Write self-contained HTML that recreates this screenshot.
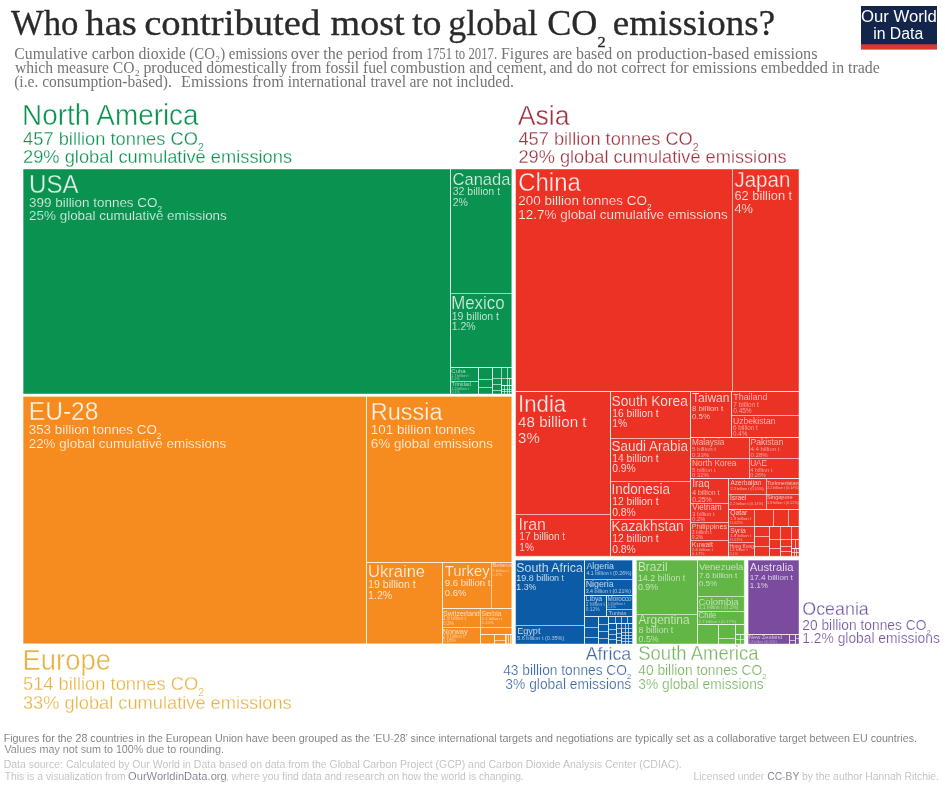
<!DOCTYPE html>
<html lang="en">
<head>
<meta charset="utf-8">
<title>Who has contributed most to global CO2 emissions?</title>
<style>
html,body{margin:0;padding:0;background:#fff;}
body{width:945px;height:789px;overflow:hidden;}
svg{display:block;}
.s{font-family:"Liberation Sans",Arial,Helvetica,sans-serif;}
.f{font-family:"Liberation Serif","Times New Roman",serif;}
text{white-space:pre;}
</style>
</head>
<body>
<svg width="945" height="789" viewBox="0 0 945 789">
<rect x="0" y="0" width="945" height="789" fill="#fff"/>
<text class="f" x="10.9" y="35.4" font-size="35.6" fill="#2a2a2a" stroke="#2a2a2a" stroke-width="0.3" textLength="67.55" lengthAdjust="spacingAndGlyphs">Who</text>
<text class="f" x="85.31" y="35.4" font-size="35.6" fill="#2a2a2a" stroke="#2a2a2a" stroke-width="0.3" textLength="51.67" lengthAdjust="spacingAndGlyphs">has</text>
<text class="f" x="144.15" y="35.4" font-size="35.6" fill="#2a2a2a" stroke="#2a2a2a" stroke-width="0.3" textLength="176.2" lengthAdjust="spacingAndGlyphs">contributed</text>
<text class="f" x="330.64" y="35.4" font-size="35.6" fill="#2a2a2a" stroke="#2a2a2a" stroke-width="0.3" textLength="74.03" lengthAdjust="spacingAndGlyphs">most</text>
<text class="f" x="411.92" y="35.4" font-size="35.6" fill="#2a2a2a" stroke="#2a2a2a" stroke-width="0.3" textLength="29.51" lengthAdjust="spacingAndGlyphs">to</text>
<text class="f" x="448.39" y="35.4" font-size="35.6" fill="#2a2a2a" stroke="#2a2a2a" stroke-width="0.3" textLength="89.3" lengthAdjust="spacingAndGlyphs">global</text>
<text class="f" x="547.16" y="35.4" font-size="35.6" fill="#2a2a2a" stroke="#2a2a2a" stroke-width="0.3" textLength="50.14" lengthAdjust="spacingAndGlyphs">CO</text>
<text class="f" x="612.82" y="35.4" font-size="35.6" fill="#2a2a2a" stroke="#2a2a2a" stroke-width="0.3" textLength="162.3" lengthAdjust="spacingAndGlyphs">emissions?</text>
<text class="f" x="597.6" y="46.5" font-size="14.5" fill="#2a2a2a" stroke="#2a2a2a" stroke-width="0.3" textLength="8.2" lengthAdjust="spacingAndGlyphs">2</text>
<text class="f" x="14.27" y="58.8" font-size="16" fill="#747474" textLength="171.4" lengthAdjust="spacingAndGlyphs">Cumulative carbon dioxide</text>
<text class="f" x="189.33" y="58.8" font-size="16" fill="#747474" textLength="98.27" lengthAdjust="spacingAndGlyphs">(CO₂) emissions</text>
<text class="f" x="290.76" y="58.8" font-size="16" fill="#747474" textLength="132.34" lengthAdjust="spacingAndGlyphs">over the period from</text>
<text class="f" x="426.62" y="58.8" font-size="16" fill="#747474" textLength="70.48" lengthAdjust="spacingAndGlyphs">1751 to 2017.</text>
<text class="f" x="500.92" y="58.8" font-size="16" fill="#747474" textLength="131.28" lengthAdjust="spacingAndGlyphs">Figures are based on</text>
<text class="f" x="636.86" y="58.8" font-size="16" fill="#747474" textLength="180.66" lengthAdjust="spacingAndGlyphs">production-based emissions</text>
<text class="f" x="14.9" y="72.5" font-size="16" fill="#747474" textLength="125.03" lengthAdjust="spacingAndGlyphs">which measure CO₂</text>
<text class="f" x="143.46" y="72.5" font-size="16" fill="#747474" textLength="143.72" lengthAdjust="spacingAndGlyphs">produced domestically</text>
<text class="f" x="290.93" y="72.5" font-size="16" fill="#747474" textLength="96.41" lengthAdjust="spacingAndGlyphs">from fossil fuel</text>
<text class="f" x="390.26" y="72.5" font-size="16" fill="#747474" textLength="156.52" lengthAdjust="spacingAndGlyphs">combustion and cement,</text>
<text class="f" x="549.44" y="72.5" font-size="16" fill="#747474" textLength="139.29" lengthAdjust="spacingAndGlyphs">and do not correct for</text>
<text class="f" x="692.25" y="72.5" font-size="16" fill="#747474" textLength="135.8" lengthAdjust="spacingAndGlyphs">emissions embedded</text>
<text class="f" x="831.78" y="72.5" font-size="16" fill="#747474" textLength="48.01" lengthAdjust="spacingAndGlyphs">in trade</text>
<text class="f" x="14.2" y="87" font-size="16" fill="#747474" textLength="157.69" lengthAdjust="spacingAndGlyphs">(i.e. consumption-based).</text>
<text class="f" x="180.91" y="87" font-size="16" fill="#747474" textLength="102.96" lengthAdjust="spacingAndGlyphs">Emissions from</text>
<text class="f" x="287.69" y="87" font-size="16" fill="#747474" textLength="118.32" lengthAdjust="spacingAndGlyphs">international travel</text>
<text class="f" x="409.45" y="87" font-size="16" fill="#747474" textLength="104.49" lengthAdjust="spacingAndGlyphs">are not included.</text>
<rect x="861" y="6" width="76" height="43.3" fill="#13254a"/>
<rect x="861" y="44.3" width="76" height="5" fill="#d63a2f"/>
<text class="s" x="860.95" y="22.1" font-size="16" fill="#fff" textLength="75.89" lengthAdjust="spacingAndGlyphs">Our World</text>
<text class="s" x="873.17" y="38.5" font-size="16" fill="#fff" textLength="50.08" lengthAdjust="spacingAndGlyphs">in Data</text>
<text class="s" x="22.07" y="125" font-size="29.52" fill="#0a9250" stroke="#fff" stroke-width="0.44" textLength="176.45" lengthAdjust="spacingAndGlyphs">North America</text>
<text class="s" x="23.07" y="144.5" font-size="18.92" fill="#0a9250" stroke="#fff" stroke-width="0.28" textLength="174.82" lengthAdjust="spacingAndGlyphs">457 billion tonnes CO</text>
<text class="s" x="197.89" y="151" font-size="10.5" fill="#0a9250" stroke="#fff" stroke-width="0.16" textLength="5.84" lengthAdjust="spacingAndGlyphs">2</text>
<text class="s" x="23.07" y="163.4" font-size="18.9" fill="#0a9250" stroke="#fff" stroke-width="0.28" textLength="268.95" lengthAdjust="spacingAndGlyphs">29% global cumulative emissions</text>
<text class="s" x="517.8" y="125.4" font-size="28.23" fill="#a03340" stroke="#fff" stroke-width="0.42" textLength="51.81" lengthAdjust="spacingAndGlyphs">Asia</text>
<text class="s" x="518.4" y="144.5" font-size="18.88" fill="#a03340" stroke="#fff" stroke-width="0.28" textLength="174.42" lengthAdjust="spacingAndGlyphs">457 billion tonnes CO</text>
<text class="s" x="692.82" y="151" font-size="10.5" fill="#a03340" stroke="#fff" stroke-width="0.16" textLength="5.84" lengthAdjust="spacingAndGlyphs">2</text>
<text class="s" x="518.4" y="163.4" font-size="18.84" fill="#a03340" stroke="#fff" stroke-width="0.28" textLength="268.14" lengthAdjust="spacingAndGlyphs">29% global cumulative emissions</text>
<text class="s" x="22.56" y="670.3" font-size="29.06" fill="#e8b344" stroke="#fff" stroke-width="0.44" textLength="88.42" lengthAdjust="spacingAndGlyphs">Europe</text>
<text class="s" x="22.96" y="689.6" font-size="18.96" fill="#e8b344" stroke="#fff" stroke-width="0.28" textLength="175.19" lengthAdjust="spacingAndGlyphs">514 billion tonnes CO</text>
<text class="s" x="198.15" y="696.1" font-size="10.5" fill="#e8b344" stroke="#fff" stroke-width="0.16" textLength="5.84" lengthAdjust="spacingAndGlyphs">2</text>
<text class="s" x="22.96" y="709" font-size="18.88" fill="#e8b344" stroke="#fff" stroke-width="0.28" textLength="268.77" lengthAdjust="spacingAndGlyphs">33% global cumulative emissions</text>
<text class="s" x="585.7" y="660.3" font-size="18.88" fill="#4068a4" stroke="#fff" stroke-width="0.28" textLength="45.52" lengthAdjust="spacingAndGlyphs">Africa</text>
<text class="s" x="503.19" y="674.6" font-size="14.23" fill="#4068a4" stroke="#fff" stroke-width="0.21" textLength="123.8" lengthAdjust="spacingAndGlyphs">43 billion tonnes CO</text>
<text class="s" x="627" y="679.3" font-size="7.6" fill="#4068a4" stroke="#fff" stroke-width="0.11" textLength="4.23" lengthAdjust="spacingAndGlyphs">2</text>
<text class="s" x="505.37" y="688.9" font-size="14.29" fill="#4068a4" stroke="#fff" stroke-width="0.21" textLength="125.85" lengthAdjust="spacingAndGlyphs">3% global emissions</text>
<text class="s" x="638.27" y="660.2" font-size="19.59" fill="#7ab560" stroke="#fff" stroke-width="0.29" textLength="120.21" lengthAdjust="spacingAndGlyphs">South America</text>
<text class="s" x="638.27" y="674.5" font-size="14.24" fill="#7ab560" stroke="#fff" stroke-width="0.21" textLength="123.9" lengthAdjust="spacingAndGlyphs">40 billion tonnes CO</text>
<text class="s" x="762.17" y="679.4" font-size="7.6" fill="#7ab560" stroke="#fff" stroke-width="0.11" textLength="4.23" lengthAdjust="spacingAndGlyphs">2</text>
<text class="s" x="638.27" y="688.9" font-size="14.24" fill="#7ab560" stroke="#fff" stroke-width="0.21" textLength="125.44" lengthAdjust="spacingAndGlyphs">3% global emissions</text>
<text class="s" x="802.3" y="615.4" font-size="18.92" fill="#7556a3" stroke="#fff" stroke-width="0.28" textLength="66.5" lengthAdjust="spacingAndGlyphs">Oceania</text>
<text class="s" x="802.3" y="629.8" font-size="14.26" fill="#7556a3" stroke="#fff" stroke-width="0.21" textLength="124.12" lengthAdjust="spacingAndGlyphs">20 billion tonnes CO</text>
<text class="s" x="926.41" y="634.7" font-size="7.6" fill="#7556a3" stroke="#fff" stroke-width="0.11" textLength="4.23" lengthAdjust="spacingAndGlyphs">2</text>
<text class="s" x="802.3" y="643.2" font-size="14.3" fill="#7556a3" stroke="#fff" stroke-width="0.21" textLength="137.52" lengthAdjust="spacingAndGlyphs">1.2% global emissions</text>
<rect x="23.1" y="169" width="488.7" height="225" fill="#0a9250" stroke="#fff" stroke-opacity="0.45" stroke-width="1"/>
<rect x="515.55" y="169" width="283.45" height="387.3" fill="#ec3224" stroke="#fff" stroke-opacity="0.45" stroke-width="1"/>
<rect x="23.1" y="396.4" width="488.7" height="247.4" fill="#f68b1f" stroke="#fff" stroke-opacity="0.45" stroke-width="1"/>
<rect x="515.55" y="560.1" width="116.95" height="83.9" fill="#0b5ba6" stroke="#fff" stroke-opacity="0.45" stroke-width="1"/>
<rect x="636.4" y="560.1" width="107.9" height="83.9" fill="#62b646" stroke="#fff" stroke-opacity="0.45" stroke-width="1"/>
<rect x="748.1" y="560.1" width="50.9" height="83.9" fill="#7a4b9e" stroke="#fff" stroke-opacity="0.45" stroke-width="1"/>
<path d="M450.5 169L450.5 293.5M450.5 169L450.5 394M450.5 293.5L450.5 367.5M450.5 293.5L512 293.5M450.5 367.5L450.5 381.5M450.5 367.5L478.5 367.5M450.5 367.5L512 367.5M450.5 381.5L450.5 394M450.5 381.5L478.5 381.5M478.5 367.5L478.5 379.5M478.5 367.5L478.5 381.5M478.5 367.5L492.5 367.5M478.5 379.5L478.5 387.5M478.5 379.5L492.5 379.5M478.5 381.5L478.5 394M478.5 387.5L478.5 394M478.5 387.5L492.5 387.5M492.5 367.5L492.5 378.5M492.5 367.5L492.5 379.5M492.5 367.5L501.5 367.5M492.5 378.5L492.5 384.5M492.5 378.5L501.5 378.5M492.5 379.5L492.5 387.5M492.5 384.5L492.5 390.5M492.5 384.5L501.5 384.5M492.5 387.5L492.5 394M492.5 390.5L492.5 394M492.5 390.5L501.5 390.5M501.5 367.5L501.5 378.5M501.5 367.5L507.5 367.5M501.5 378.5L501.5 384.5M501.5 378.5L501.5 385.5M501.5 378.5L507.5 378.5M501.5 384.5L501.5 390.5M501.5 385.5L501.5 389.5M501.5 385.5L501.5 394M501.5 385.5L504.5 385.5M501.5 385.5L507.5 385.5M501.5 385.5L512 385.5M501.5 389.5L501.5 391.5M501.5 389.5L512 389.5M501.5 390.5L501.5 394M501.5 391.5L512 391.5M504.5 385.5L504.5 394M504.5 385.5L507.5 385.5M507.5 367.5L507.5 378.5M507.5 367.5L512 367.5M507.5 378.5L507.5 385.5M507.5 378.5L509.5 378.5M507.5 378.5L512 378.5M507.5 385.5L507.5 394M507.5 385.5L509.5 385.5M507.5 385.5L512 385.5M509.5 378.5L509.5 385.5M509.5 378.5L512 378.5M509.5 385.5L509.5 394M509.5 385.5L512 385.5" stroke="#fff" stroke-opacity="0.6" stroke-width="1" fill="none"/>
<path d="M515.7 391.5L610.5 391.5M515.7 391.5L732.5 391.5M515.7 514.5L610.5 514.5M610.5 391.5L610.5 438.5M610.5 391.5L610.5 514.5M610.5 391.5L690.5 391.5M610.5 438.5L610.5 481.5M610.5 438.5L690.5 438.5M610.5 481.5L610.5 519.5M610.5 481.5L690.5 481.5M610.5 514.5L610.5 556.3M610.5 519.5L610.5 556.3M610.5 519.5L690.5 519.5M690.5 391.5L690.5 437.5M690.5 391.5L690.5 438.5M690.5 391.5L731.5 391.5M690.5 437.5L690.5 458.5M690.5 437.5L731.5 437.5M690.5 437.5L749.5 437.5M690.5 438.5L690.5 481.5M690.5 458.5L690.5 478.5M690.5 458.5L749.5 458.5M690.5 478.5L690.5 503.5M690.5 478.5L728.5 478.5M690.5 478.5L749.5 478.5M690.5 481.5L690.5 519.5M690.5 503.5L690.5 522.5M690.5 503.5L728.5 503.5M690.5 519.5L690.5 556.3M690.5 522.5L690.5 540.5M690.5 522.5L728.5 522.5M690.5 540.5L690.5 556.3M690.5 540.5L728.5 540.5M728.5 478.5L728.5 494.5M728.5 478.5L728.5 503.5M728.5 478.5L766.5 478.5M728.5 494.5L728.5 509.5M728.5 494.5L766.5 494.5M728.5 503.5L728.5 522.5M728.5 509.5L728.5 526.5M728.5 509.5L754.5 509.5M728.5 509.5L766.5 509.5M728.5 522.5L728.5 540.5M728.5 526.5L728.5 542.5M728.5 526.5L754.5 526.5M728.5 540.5L728.5 556.3M728.5 542.5L728.5 556.3M728.5 542.5L754.5 542.5M731.5 391.5L731.5 415.5M731.5 391.5L731.5 437.5M731.5 391.5L799 391.5M731.5 415.5L731.5 437.5M731.5 415.5L799 415.5M731.5 437.5L799 437.5M732.5 169L732.5 391.5M732.5 391.5L799 391.5M749.5 437.5L749.5 458.5M749.5 437.5L799 437.5M749.5 458.5L749.5 478.5M749.5 458.5L799 458.5M749.5 478.5L799 478.5M754.5 509.5L754.5 526.5M754.5 509.5L773.5 509.5M754.5 526.5L754.5 536.5M754.5 526.5L754.5 542.5M754.5 526.5L769.5 526.5M754.5 526.5L773.5 526.5M754.5 536.5L754.5 546.5M754.5 536.5L769.5 536.5M754.5 542.5L754.5 556.3M754.5 546.5L754.5 556.3M754.5 546.5L769.5 546.5M766.5 478.5L766.5 494.5M766.5 478.5L799 478.5M766.5 494.5L766.5 509.5M766.5 494.5L799 494.5M766.5 509.5L799 509.5M769.5 526.5L769.5 536.5M769.5 526.5L769.5 539.5M769.5 526.5L780.5 526.5M769.5 536.5L769.5 546.5M769.5 539.5L769.5 548.5M769.5 539.5L780.5 539.5M769.5 546.5L769.5 556.3M769.5 548.5L769.5 556.3M769.5 548.5L780.5 548.5M773.5 509.5L773.5 526.5M773.5 509.5L788.5 509.5M773.5 526.5L788.5 526.5M780.5 526.5L780.5 539.5M780.5 526.5L791.5 526.5M780.5 539.5L780.5 546.5M780.5 539.5L780.5 548.5M780.5 539.5L791.5 539.5M780.5 546.5L780.5 551.5M780.5 546.5L791.5 546.5M780.5 548.5L780.5 556.3M780.5 551.5L780.5 556.3M780.5 551.5L791.5 551.5M788.5 509.5L788.5 526.5M788.5 509.5L799 509.5M788.5 526.5L799 526.5M791.5 526.5L791.5 539.5M791.5 526.5L799 526.5M791.5 539.5L791.5 546.5M791.5 539.5L791.5 548.5M791.5 539.5L795.5 539.5M791.5 539.5L799 539.5M791.5 546.5L791.5 551.5M791.5 548.5L791.5 552.5M791.5 548.5L791.5 556.3M791.5 548.5L794.5 548.5M791.5 548.5L795.5 548.5M791.5 548.5L799 548.5M791.5 551.5L791.5 556.3M791.5 552.5L791.5 556.3M791.5 552.5L799 552.5M794.5 548.5L794.5 556.3M794.5 548.5L796.5 548.5M795.5 539.5L795.5 548.5M795.5 539.5L799 539.5M795.5 548.5L799 548.5M796.5 548.5L796.5 556.3M796.5 548.5L799 548.5" stroke="#fff" stroke-opacity="0.62" stroke-width="1" fill="none"/>
<path d="M366.5 396L366.5 562.5M366.5 396L366.5 643.8M366.5 562.5L366.5 643.8M366.5 562.5L442.5 562.5M366.5 562.5L512 562.5M442.5 562.5L442.5 608.5M442.5 562.5L442.5 643.8M442.5 562.5L491.5 562.5M442.5 608.5L442.5 627.5M442.5 608.5L480.5 608.5M442.5 608.5L491.5 608.5M442.5 627.5L442.5 643.8M442.5 627.5L480.5 627.5M480.5 608.5L480.5 627.5M480.5 608.5L512 608.5M480.5 627.5L480.5 634.5M480.5 627.5L480.5 643.8M480.5 627.5L512 627.5M480.5 634.5L480.5 643.8M480.5 634.5L494.5 634.5M480.5 634.5L512 634.5M491.5 562.5L491.5 608.5M491.5 562.5L512 562.5M491.5 608.5L512 608.5M494.5 634.5L494.5 640.5M494.5 634.5L494.5 643.8M494.5 634.5L505.5 634.5M494.5 640.5L494.5 643.8M494.5 640.5L505.5 640.5M505.5 634.5L505.5 640.5M505.5 634.5L505.5 643.8M505.5 634.5L506.5 634.5M505.5 634.5L508.5 634.5M505.5 640.5L505.5 643.8M506.5 634.5L506.5 643.8M506.5 634.5L508.5 634.5M508.5 634.5L508.5 643.8M508.5 634.5L510.5 634.5M508.5 634.5L512 634.5M510.5 634.5L510.5 643.8M510.5 634.5L512 634.5" stroke="#fff" stroke-opacity="0.6" stroke-width="1" fill="none"/>
<path d="M515.7 625.5L584.5 625.5M584.5 560.3L584.5 579.5M584.5 560.3L584.5 625.5M584.5 579.5L584.5 595.5M584.5 579.5L632.5 579.5M584.5 595.5L584.5 616.5M584.5 595.5L606.5 595.5M584.5 595.5L632.5 595.5M584.5 616.5L584.5 627.5M584.5 616.5L598.5 616.5M584.5 616.5L606.5 616.5M584.5 625.5L584.5 644M584.5 627.5L584.5 637.5M584.5 627.5L598.5 627.5M584.5 637.5L584.5 644M584.5 637.5L598.5 637.5M598.5 616.5L598.5 624.5M598.5 616.5L598.5 627.5M598.5 616.5L608.5 616.5M598.5 624.5L598.5 631.5M598.5 624.5L608.5 624.5M598.5 627.5L598.5 637.5M598.5 631.5L598.5 638.5M598.5 631.5L608.5 631.5M598.5 637.5L598.5 644M598.5 638.5L598.5 644M598.5 638.5L608.5 638.5M606.5 595.5L606.5 609.5M606.5 595.5L606.5 616.5M606.5 595.5L632.5 595.5M606.5 609.5L606.5 616.5M606.5 609.5L632.5 609.5M606.5 616.5L632.5 616.5M608.5 616.5L608.5 623.5M608.5 616.5L608.5 624.5M608.5 616.5L615.5 616.5M608.5 623.5L608.5 629.5M608.5 623.5L615.5 623.5M608.5 623.5L616.5 623.5M608.5 624.5L608.5 631.5M608.5 629.5L608.5 634.5M608.5 629.5L616.5 629.5M608.5 631.5L608.5 638.5M608.5 634.5L608.5 639.5M608.5 634.5L616.5 634.5M608.5 638.5L608.5 644M608.5 639.5L608.5 644M608.5 639.5L616.5 639.5M615.5 616.5L615.5 623.5M615.5 616.5L621.5 616.5M615.5 623.5L621.5 623.5M616.5 623.5L616.5 628.5M616.5 623.5L616.5 629.5M616.5 623.5L621.5 623.5M616.5 628.5L616.5 633.5M616.5 628.5L621.5 628.5M616.5 629.5L616.5 634.5M616.5 633.5L616.5 637.5M616.5 633.5L621.5 633.5M616.5 634.5L616.5 639.5M616.5 637.5L616.5 640.5M616.5 637.5L621.5 637.5M616.5 639.5L616.5 644M616.5 640.5L616.5 644M616.5 640.5L621.5 640.5M621.5 616.5L621.5 623.5M621.5 616.5L627.5 616.5M621.5 623.5L621.5 628.5M621.5 623.5L625.5 623.5M621.5 623.5L627.5 623.5M621.5 628.5L621.5 632.5M621.5 628.5L621.5 633.5M621.5 628.5L625.5 628.5M621.5 632.5L621.5 635.5M621.5 632.5L625.5 632.5M621.5 633.5L621.5 637.5M621.5 635.5L621.5 638.5M621.5 635.5L625.5 635.5M621.5 637.5L621.5 640.5M621.5 638.5L621.5 641.5M621.5 638.5L625.5 638.5M621.5 640.5L621.5 644M621.5 641.5L621.5 644M621.5 641.5L625.5 641.5M625.5 623.5L625.5 628.5M625.5 623.5L628.5 623.5M625.5 628.5L625.5 632.5M625.5 628.5L628.5 628.5M625.5 632.5L625.5 635.5M625.5 632.5L628.5 632.5M625.5 635.5L625.5 638.5M625.5 635.5L628.5 635.5M625.5 638.5L625.5 641.5M625.5 638.5L628.5 638.5M625.5 641.5L625.5 644M625.5 641.5L628.5 641.5M627.5 616.5L627.5 623.5M627.5 616.5L632.5 616.5M627.5 623.5L632.5 623.5M628.5 623.5L628.5 628.5M628.5 623.5L632.5 623.5M628.5 628.5L628.5 632.5M628.5 628.5L632.5 628.5M628.5 632.5L628.5 635.5M628.5 632.5L632.5 632.5M628.5 635.5L628.5 638.5M628.5 635.5L632.5 635.5M628.5 638.5L628.5 641.5M628.5 638.5L632.5 638.5M628.5 641.5L628.5 644M628.5 641.5L632.5 641.5" stroke="#fff" stroke-opacity="0.62" stroke-width="1" fill="none"/>
<path d="M636.4 614.5L697.5 614.5M697.5 560.3L697.5 596.5M697.5 560.3L697.5 614.5M697.5 596.5L697.5 611.5M697.5 596.5L744.3 596.5M697.5 611.5L697.5 624.5M697.5 611.5L744.3 611.5M697.5 614.5L697.5 644M697.5 624.5L697.5 644M697.5 624.5L718.5 624.5M697.5 624.5L744.3 624.5M718.5 624.5L718.5 638.5M718.5 624.5L718.5 644M718.5 624.5L735.5 624.5M718.5 638.5L718.5 644M718.5 638.5L735.5 638.5M735.5 624.5L735.5 634.5M735.5 624.5L735.5 638.5M735.5 624.5L744.3 624.5M735.5 634.5L735.5 639.5M735.5 634.5L740.5 634.5M735.5 634.5L744.3 634.5M735.5 638.5L735.5 644M735.5 639.5L735.5 644M735.5 639.5L740.5 639.5M740.5 634.5L740.5 639.5M740.5 634.5L744.3 634.5M740.5 639.5L740.5 644M740.5 639.5L744.3 639.5" stroke="#fff" stroke-opacity="0.6" stroke-width="1" fill="none"/>
<path d="M748.1 634.5L789.5 634.5M748.1 634.5L799 634.5M789.5 634.5L789.5 640.5M789.5 634.5L789.5 644M789.5 634.5L795.5 634.5M789.5 640.5L789.5 644M789.5 640.5L795.5 640.5M795.5 634.5L795.5 638.5M795.5 634.5L795.5 640.5M795.5 634.5L799 634.5M795.5 638.5L795.5 644M795.5 638.5L799 638.5M795.5 640.5L795.5 644" stroke="#fff" stroke-opacity="0.6" stroke-width="1" fill="none"/>
<text class="s" x="29.1" y="193.3" font-size="24.96" fill="#fff" fill-opacity="0.86" stroke="#0a9250" stroke-width="0.3" textLength="49.35" lengthAdjust="spacingAndGlyphs">USA</text>
<text class="s" x="29.1" y="206.8" font-size="13.42" fill="#fff" fill-opacity="0.86" stroke="#0a9250" stroke-width="0.16" textLength="128.32" lengthAdjust="spacingAndGlyphs">399 billion tonnes CO</text>
<text class="s" x="29.1" y="220.4" font-size="13.42" fill="#fff" fill-opacity="0.86" stroke="#0a9250" stroke-width="0.16" textLength="197.67" lengthAdjust="spacingAndGlyphs">25% global cumulative emissions</text>
<text class="s" x="157.42" y="212.17" font-size="8.32" fill="#fff" fill-opacity="0.86" stroke="#0a9250" stroke-width="0.1" textLength="4.63" lengthAdjust="spacingAndGlyphs">2</text>
<text class="s" x="452.57" y="184.6" font-size="17.18" fill="#fff" fill-opacity="0.84" stroke="#0a9250" stroke-width="0.21" textLength="57.88" lengthAdjust="spacingAndGlyphs">Canada</text>
<text class="s" x="452.77" y="195.1" font-size="10.5" fill="#fff" fill-opacity="0.84" stroke="#0a9250" stroke-width="0.13" textLength="47.28" lengthAdjust="spacingAndGlyphs">32 billion t</text>
<text class="s" x="452.77" y="205.8" font-size="10.5" fill="#fff" fill-opacity="0.84" stroke="#0a9250" stroke-width="0.13" textLength="15.18" lengthAdjust="spacingAndGlyphs">2%</text>
<text class="s" x="451.15" y="309.2" font-size="17.52" fill="#fff" fill-opacity="0.84" stroke="#0a9250" stroke-width="0.21" textLength="53.37" lengthAdjust="spacingAndGlyphs">Mexico</text>
<text class="s" x="451.75" y="319.9" font-size="10.5" fill="#fff" fill-opacity="0.84" stroke="#0a9250" stroke-width="0.13" textLength="47.28" lengthAdjust="spacingAndGlyphs">19 billion t</text>
<text class="s" x="451.75" y="330.4" font-size="10.5" fill="#fff" fill-opacity="0.84" stroke="#0a9250" stroke-width="0.13" textLength="23.93" lengthAdjust="spacingAndGlyphs">1.2%</text>
<text class="s" x="451.3" y="372.7" font-size="6.24" fill="#fff" fill-opacity="0.75" stroke="#0a9250" stroke-width="0.07" textLength="14.34" lengthAdjust="spacingAndGlyphs">Cuba</text>
<text class="s" x="451.3" y="376.5" font-size="3.6" fill="#fff" fill-opacity="0.6" stroke="#0a9250" stroke-width="0.04" textLength="17.21" lengthAdjust="spacingAndGlyphs">1.7 billion t</text>
<text class="s" x="451.3" y="380.2" font-size="3.6" fill="#fff" fill-opacity="0.6" stroke="#0a9250" stroke-width="0.04" textLength="8.21" lengthAdjust="spacingAndGlyphs">0.1%</text>
<text class="s" x="451.49" y="386.2" font-size="5.72" fill="#fff" fill-opacity="0.75" stroke="#0a9250" stroke-width="0.07" textLength="19.67" lengthAdjust="spacingAndGlyphs">Trinidad</text>
<text class="s" x="451.49" y="389.8" font-size="3.6" fill="#fff" fill-opacity="0.6" stroke="#0a9250" stroke-width="0.04" textLength="17.21" lengthAdjust="spacingAndGlyphs">1.3 billion t</text>
<text class="s" x="451.49" y="393.3" font-size="3.6" fill="#fff" fill-opacity="0.6" stroke="#0a9250" stroke-width="0.04" textLength="8.21" lengthAdjust="spacingAndGlyphs">0.1%</text>
<text class="s" x="518.3" y="191.1" font-size="24.86" fill="#fff" fill-opacity="0.9" stroke="#ec3224" stroke-width="0.3" textLength="62.46" lengthAdjust="spacingAndGlyphs">China</text>
<text class="s" x="518.3" y="205" font-size="13.45" fill="#fff" fill-opacity="0.9" stroke="#ec3224" stroke-width="0.16" textLength="128.61" lengthAdjust="spacingAndGlyphs">200 billion tonnes CO</text>
<text class="s" x="518.3" y="218.6" font-size="13.45" fill="#fff" fill-opacity="0.9" stroke="#ec3224" stroke-width="0.16" textLength="209.33" lengthAdjust="spacingAndGlyphs">12.7% global cumulative emissions</text>
<text class="s" x="646.91" y="210.38" font-size="8.34" fill="#fff" fill-opacity="0.9" stroke="#ec3224" stroke-width="0.1" textLength="4.64" lengthAdjust="spacingAndGlyphs">2</text>
<text class="s" x="734.49" y="187.3" font-size="21.31" fill="#fff" fill-opacity="0.9" stroke="#ec3224" stroke-width="0.26" textLength="55.83" lengthAdjust="spacingAndGlyphs">Japan</text>
<text class="s" x="734.49" y="200.1" font-size="12.8" fill="#fff" fill-opacity="0.9" stroke="#ec3224" stroke-width="0.15" textLength="57.64" lengthAdjust="spacingAndGlyphs">62 billion t</text>
<text class="s" x="734.49" y="213.2" font-size="12.8" fill="#fff" fill-opacity="0.9" stroke="#ec3224" stroke-width="0.15" textLength="18.5" lengthAdjust="spacingAndGlyphs">4%</text>
<text class="s" x="518.1" y="411.7" font-size="23.06" fill="#fff" fill-opacity="0.9" stroke="#ec3224" stroke-width="0.28" textLength="48.07" lengthAdjust="spacingAndGlyphs">India</text>
<text class="s" x="518.1" y="426.9" font-size="15.2" fill="#fff" fill-opacity="0.9" stroke="#ec3224" stroke-width="0.18" textLength="68.43" lengthAdjust="spacingAndGlyphs">48 billion t</text>
<text class="s" x="518.1" y="442.7" font-size="15" fill="#fff" fill-opacity="0.9" stroke="#ec3224" stroke-width="0.18" textLength="21.68" lengthAdjust="spacingAndGlyphs">3%</text>
<text class="s" x="518.57" y="529.6" font-size="16.55" fill="#fff" fill-opacity="0.9" stroke="#ec3224" stroke-width="0.2" textLength="27.42" lengthAdjust="spacingAndGlyphs">Iran</text>
<text class="s" x="519.37" y="540.3" font-size="10.18" fill="#fff" fill-opacity="0.9" stroke="#ec3224" stroke-width="0.12" textLength="45.85" lengthAdjust="spacingAndGlyphs">17 billion t</text>
<text class="s" x="519.37" y="550.9" font-size="10.2" fill="#fff" fill-opacity="0.9" stroke="#ec3224" stroke-width="0.12" textLength="14.74" lengthAdjust="spacingAndGlyphs">1%</text>
<text class="s" x="611.48" y="406" font-size="14.29" fill="#fff" fill-opacity="0.9" stroke="#ec3224" stroke-width="0.17" textLength="76.42" lengthAdjust="spacingAndGlyphs">South Korea</text>
<text class="s" x="612.28" y="416.8" font-size="10.3" fill="#fff" fill-opacity="0.9" stroke="#ec3224" stroke-width="0.12" textLength="46.38" lengthAdjust="spacingAndGlyphs">16 billion t</text>
<text class="s" x="612.28" y="427.4" font-size="10.3" fill="#fff" fill-opacity="0.9" stroke="#ec3224" stroke-width="0.12" textLength="14.89" lengthAdjust="spacingAndGlyphs">1%</text>
<text class="s" x="611.49" y="450.7" font-size="14.04" fill="#fff" fill-opacity="0.9" stroke="#ec3224" stroke-width="0.17" textLength="76.56" lengthAdjust="spacingAndGlyphs">Saudi Arabia</text>
<text class="s" x="612.29" y="461.6" font-size="10.3" fill="#fff" fill-opacity="0.9" stroke="#ec3224" stroke-width="0.12" textLength="46.38" lengthAdjust="spacingAndGlyphs">14 billion t</text>
<text class="s" x="612.29" y="472.3" font-size="10.3" fill="#fff" fill-opacity="0.9" stroke="#ec3224" stroke-width="0.12" textLength="23.48" lengthAdjust="spacingAndGlyphs">0.9%</text>
<text class="s" x="611.38" y="493.6" font-size="14.06" fill="#fff" fill-opacity="0.9" stroke="#ec3224" stroke-width="0.17" textLength="58.64" lengthAdjust="spacingAndGlyphs">Indonesia</text>
<text class="s" x="612.18" y="504.9" font-size="10.3" fill="#fff" fill-opacity="0.9" stroke="#ec3224" stroke-width="0.12" textLength="46.38" lengthAdjust="spacingAndGlyphs">12 billion t</text>
<text class="s" x="612.18" y="515.6" font-size="10.3" fill="#fff" fill-opacity="0.9" stroke="#ec3224" stroke-width="0.12" textLength="23.48" lengthAdjust="spacingAndGlyphs">0.8%</text>
<text class="s" x="611.49" y="531.1" font-size="14.39" fill="#fff" fill-opacity="0.9" stroke="#ec3224" stroke-width="0.17" textLength="72.32" lengthAdjust="spacingAndGlyphs">Kazakhstan</text>
<text class="s" x="612.29" y="542.1" font-size="10.3" fill="#fff" fill-opacity="0.9" stroke="#ec3224" stroke-width="0.12" textLength="46.38" lengthAdjust="spacingAndGlyphs">12 billion t</text>
<text class="s" x="612.29" y="553" font-size="10.3" fill="#fff" fill-opacity="0.9" stroke="#ec3224" stroke-width="0.12" textLength="23.48" lengthAdjust="spacingAndGlyphs">0.8%</text>
<text class="s" x="691.96" y="402.1" font-size="12.55" fill="#fff" fill-opacity="0.88" stroke="#ec3224" stroke-width="0.15" textLength="37.56" lengthAdjust="spacingAndGlyphs">Taiwan</text>
<text class="s" x="691.96" y="410.7" font-size="7.9" fill="#fff" fill-opacity="0.8" stroke="#ec3224" stroke-width="0.09" textLength="31.18" lengthAdjust="spacingAndGlyphs">8 billion t</text>
<text class="s" x="691.96" y="418.9" font-size="7.9" fill="#fff" fill-opacity="0.8" stroke="#ec3224" stroke-width="0.09" textLength="18.01" lengthAdjust="spacingAndGlyphs">0.5%</text>
<text class="s" x="733.22" y="399.9" font-size="9.29" fill="#fff" fill-opacity="0.75" stroke="#ec3224" stroke-width="0.11" textLength="34.27" lengthAdjust="spacingAndGlyphs">Thailand</text>
<text class="s" x="733.22" y="407" font-size="6.5" fill="#fff" fill-opacity="0.6" stroke="#ec3224" stroke-width="0.08" textLength="25.65" lengthAdjust="spacingAndGlyphs">7 billion t</text>
<text class="s" x="733.22" y="413.4" font-size="6.5" fill="#fff" fill-opacity="0.6" stroke="#ec3224" stroke-width="0.08" textLength="18.43" lengthAdjust="spacingAndGlyphs">0.45%</text>
<text class="s" x="732.95" y="423.6" font-size="8.96" fill="#fff" fill-opacity="0.75" stroke="#ec3224" stroke-width="0.11" textLength="42.62" lengthAdjust="spacingAndGlyphs">Uzbekistan</text>
<text class="s" x="732.95" y="430.2" font-size="6.3" fill="#fff" fill-opacity="0.6" stroke="#ec3224" stroke-width="0.08" textLength="24.87" lengthAdjust="spacingAndGlyphs">6 billion t</text>
<text class="s" x="732.95" y="436.4" font-size="6.3" fill="#fff" fill-opacity="0.6" stroke="#ec3224" stroke-width="0.08" textLength="14.36" lengthAdjust="spacingAndGlyphs">0.4%</text>
<text class="s" x="691.94" y="444.9" font-size="8.53" fill="#fff" fill-opacity="0.75" stroke="#ec3224" stroke-width="0.1" textLength="32.36" lengthAdjust="spacingAndGlyphs">Malaysia</text>
<text class="s" x="691.94" y="450.8" font-size="6.1" fill="#fff" fill-opacity="0.6" stroke="#ec3224" stroke-width="0.07" textLength="24.08" lengthAdjust="spacingAndGlyphs">5 billion t</text>
<text class="s" x="691.94" y="457.3" font-size="6.1" fill="#fff" fill-opacity="0.6" stroke="#ec3224" stroke-width="0.07" textLength="17.3" lengthAdjust="spacingAndGlyphs">0.33%</text>
<text class="s" x="750.41" y="444.6" font-size="8.96" fill="#fff" fill-opacity="0.75" stroke="#ec3224" stroke-width="0.11" textLength="33.05" lengthAdjust="spacingAndGlyphs">Pakistan</text>
<text class="s" x="750.41" y="451" font-size="6.1" fill="#fff" fill-opacity="0.6" stroke="#ec3224" stroke-width="0.07" textLength="29.16" lengthAdjust="spacingAndGlyphs">4.4 billion t</text>
<text class="s" x="750.41" y="457.1" font-size="6.1" fill="#fff" fill-opacity="0.6" stroke="#ec3224" stroke-width="0.07" textLength="17.3" lengthAdjust="spacingAndGlyphs">0.28%</text>
<text class="s" x="691.94" y="466.1" font-size="8.58" fill="#fff" fill-opacity="0.75" stroke="#ec3224" stroke-width="0.1" textLength="44.48" lengthAdjust="spacingAndGlyphs">North Korea</text>
<text class="s" x="691.94" y="471.6" font-size="6" fill="#fff" fill-opacity="0.6" stroke="#ec3224" stroke-width="0.07" textLength="23.68" lengthAdjust="spacingAndGlyphs">5 billion t</text>
<text class="s" x="691.94" y="477.3" font-size="6" fill="#fff" fill-opacity="0.6" stroke="#ec3224" stroke-width="0.07" textLength="17.01" lengthAdjust="spacingAndGlyphs">0.32%</text>
<text class="s" x="750.18" y="466" font-size="8.53" fill="#fff" fill-opacity="0.75" stroke="#ec3224" stroke-width="0.1" textLength="16.86" lengthAdjust="spacingAndGlyphs">UAE</text>
<text class="s" x="750.18" y="471.5" font-size="5.6" fill="#fff" fill-opacity="0.6" stroke="#ec3224" stroke-width="0.07" textLength="22.1" lengthAdjust="spacingAndGlyphs">4 billion t</text>
<text class="s" x="750.18" y="477.2" font-size="5.6" fill="#fff" fill-opacity="0.6" stroke="#ec3224" stroke-width="0.07" textLength="15.88" lengthAdjust="spacingAndGlyphs">0.26%</text>
<text class="s" x="692.19" y="487.1" font-size="10.5" fill="#fff" fill-opacity="0.85" stroke="#ec3224" stroke-width="0.13" textLength="17.4" lengthAdjust="spacingAndGlyphs">Iraq</text>
<text class="s" x="692.19" y="494.6" font-size="6.9" fill="#fff" fill-opacity="0.7" stroke="#ec3224" stroke-width="0.08" textLength="27.23" lengthAdjust="spacingAndGlyphs">4 billion t</text>
<text class="s" x="692.19" y="501.7" font-size="6.9" fill="#fff" fill-opacity="0.7" stroke="#ec3224" stroke-width="0.08" textLength="19.56" lengthAdjust="spacingAndGlyphs">0.25%</text>
<text class="s" x="692.36" y="510.3" font-size="8.32" fill="#fff" fill-opacity="0.8" stroke="#ec3224" stroke-width="0.1" textLength="29.2" lengthAdjust="spacingAndGlyphs">Vietnam</text>
<text class="s" x="692.36" y="515.7" font-size="5.6" fill="#fff" fill-opacity="0.65" stroke="#ec3224" stroke-width="0.07" textLength="22.1" lengthAdjust="spacingAndGlyphs">3 billion t</text>
<text class="s" x="692.36" y="521.1" font-size="5.6" fill="#fff" fill-opacity="0.65" stroke="#ec3224" stroke-width="0.07" textLength="12.76" lengthAdjust="spacingAndGlyphs">0.2%</text>
<text class="s" x="691.82" y="529.3" font-size="7.59" fill="#fff" fill-opacity="0.8" stroke="#ec3224" stroke-width="0.09" textLength="35.31" lengthAdjust="spacingAndGlyphs">Philippines</text>
<text class="s" x="691.82" y="533.9" font-size="5" fill="#fff" fill-opacity="0.65" stroke="#ec3224" stroke-width="0.06" textLength="19.73" lengthAdjust="spacingAndGlyphs">3 billion t</text>
<text class="s" x="691.82" y="539.3" font-size="5" fill="#fff" fill-opacity="0.65" stroke="#ec3224" stroke-width="0.06" textLength="11.4" lengthAdjust="spacingAndGlyphs">0.2%</text>
<text class="s" x="691.84" y="547.1" font-size="7.28" fill="#fff" fill-opacity="0.8" stroke="#ec3224" stroke-width="0.09" textLength="21.01" lengthAdjust="spacingAndGlyphs">Kuwait</text>
<text class="s" x="691.84" y="551" font-size="4.4" fill="#fff" fill-opacity="0.65" stroke="#ec3224" stroke-width="0.05" textLength="21.04" lengthAdjust="spacingAndGlyphs">2.6 billion t</text>
<text class="s" x="691.84" y="555.4" font-size="4.4" fill="#fff" fill-opacity="0.65" stroke="#ec3224" stroke-width="0.05" textLength="12.48" lengthAdjust="spacingAndGlyphs">0.17%</text>
<text class="s" x="730.5" y="484.8" font-size="6.76" fill="#fff" fill-opacity="0.8" stroke="#ec3224" stroke-width="0.08" textLength="30.72" lengthAdjust="spacingAndGlyphs">Azerbaijan</text>
<text class="s" x="730.5" y="489.6" font-size="3.9" fill="#fff" fill-opacity="0.65" stroke="#ec3224" stroke-width="0.05" textLength="33.38" lengthAdjust="spacingAndGlyphs">2.3 billion t (0.15%)</text>
<text class="s" x="767.2" y="484.6" font-size="5.43" fill="#fff" fill-opacity="0.8" stroke="#ec3224" stroke-width="0.07" textLength="31.45" lengthAdjust="spacingAndGlyphs">Turkmenistan</text>
<text class="s" x="767.2" y="488.6" font-size="3.7" fill="#fff" fill-opacity="0.65" stroke="#ec3224" stroke-width="0.04" textLength="31.67" lengthAdjust="spacingAndGlyphs">2.2 billion t (0.14%)</text>
<text class="s" x="729.89" y="500.2" font-size="7.07" fill="#fff" fill-opacity="0.8" stroke="#ec3224" stroke-width="0.08" textLength="16.63" lengthAdjust="spacingAndGlyphs">Israel</text>
<text class="s" x="729.89" y="504.6" font-size="3.9" fill="#fff" fill-opacity="0.65" stroke="#ec3224" stroke-width="0.05" textLength="33.38" lengthAdjust="spacingAndGlyphs">2.2 billion t (0.14%)</text>
<text class="s" x="767.05" y="499.4" font-size="5.82" fill="#fff" fill-opacity="0.8" stroke="#ec3224" stroke-width="0.07" textLength="25.53" lengthAdjust="spacingAndGlyphs">Singapore</text>
<text class="s" x="767.05" y="503.9" font-size="3.7" fill="#fff" fill-opacity="0.65" stroke="#ec3224" stroke-width="0.04" textLength="31.67" lengthAdjust="spacingAndGlyphs">1.9 billion t (0.12%)</text>
<text class="s" x="730.19" y="515" font-size="7.07" fill="#fff" fill-opacity="0.8" stroke="#ec3224" stroke-width="0.08" textLength="17.01" lengthAdjust="spacingAndGlyphs">Qatar</text>
<text class="s" x="730.19" y="519.6" font-size="4.4" fill="#fff" fill-opacity="0.65" stroke="#ec3224" stroke-width="0.05" textLength="21.04" lengthAdjust="spacingAndGlyphs">1.9 billion t</text>
<text class="s" x="730.19" y="524.2" font-size="4.4" fill="#fff" fill-opacity="0.65" stroke="#ec3224" stroke-width="0.05" textLength="12.48" lengthAdjust="spacingAndGlyphs">0.12%</text>
<text class="s" x="730.19" y="532.5" font-size="7.07" fill="#fff" fill-opacity="0.8" stroke="#ec3224" stroke-width="0.08" textLength="15.49" lengthAdjust="spacingAndGlyphs">Syria</text>
<text class="s" x="730.19" y="536.7" font-size="4.4" fill="#fff" fill-opacity="0.65" stroke="#ec3224" stroke-width="0.05" textLength="21.04" lengthAdjust="spacingAndGlyphs">1.8 billion t</text>
<text class="s" x="730.19" y="540.7" font-size="4.4" fill="#fff" fill-opacity="0.65" stroke="#ec3224" stroke-width="0.05" textLength="12.15" lengthAdjust="spacingAndGlyphs">0.11%</text>
<text class="s" x="729.41" y="547.8" font-size="5.1" fill="#fff" fill-opacity="0.75" stroke="#ec3224" stroke-width="0.06" textLength="24.52" lengthAdjust="spacingAndGlyphs">Hong Kong</text>
<text class="s" x="729.41" y="551.3" font-size="3.8" fill="#fff" fill-opacity="0.6" stroke="#ec3224" stroke-width="0.05" textLength="18.17" lengthAdjust="spacingAndGlyphs">1.6 billion t</text>
<text class="s" x="729.41" y="555.2" font-size="3.8" fill="#fff" fill-opacity="0.6" stroke="#ec3224" stroke-width="0.05" textLength="8.66" lengthAdjust="spacingAndGlyphs">0.1%</text>
<text class="s" x="28.73" y="420.4" font-size="25.59" fill="#fff" fill-opacity="0.9" stroke="#f68b1f" stroke-width="0.31" textLength="69.74" lengthAdjust="spacingAndGlyphs">EU-28</text>
<text class="s" x="28.73" y="433.9" font-size="13.4" fill="#fff" fill-opacity="0.9" stroke="#f68b1f" stroke-width="0.16" textLength="128.13" lengthAdjust="spacingAndGlyphs">353 billion tonnes CO</text>
<text class="s" x="28.73" y="447.6" font-size="13.4" fill="#fff" fill-opacity="0.9" stroke="#f68b1f" stroke-width="0.16" textLength="197.38" lengthAdjust="spacingAndGlyphs">22% global cumulative emissions</text>
<text class="s" x="156.86" y="439.26" font-size="8.31" fill="#fff" fill-opacity="0.9" stroke="#f68b1f" stroke-width="0.1" textLength="4.62" lengthAdjust="spacingAndGlyphs">2</text>
<text class="s" x="370.82" y="420.4" font-size="24.39" fill="#fff" fill-opacity="0.9" stroke="#f68b1f" stroke-width="0.29" textLength="71.68" lengthAdjust="spacingAndGlyphs">Russia</text>
<text class="s" x="370.82" y="433.8" font-size="13.4" fill="#fff" fill-opacity="0.9" stroke="#f68b1f" stroke-width="0.16" textLength="104.3" lengthAdjust="spacingAndGlyphs">101 billion tonnes</text>
<text class="s" x="370.82" y="447.7" font-size="13.4" fill="#fff" fill-opacity="0.9" stroke="#f68b1f" stroke-width="0.16" textLength="122.15" lengthAdjust="spacingAndGlyphs">6% global emissions</text>
<text class="s" x="368.06" y="577.4" font-size="17.2" fill="#fff" fill-opacity="0.9" stroke="#f68b1f" stroke-width="0.21" textLength="57" lengthAdjust="spacingAndGlyphs">Ukraine</text>
<text class="s" x="368.06" y="588.3" font-size="10.6" fill="#fff" fill-opacity="0.9" stroke="#f68b1f" stroke-width="0.13" textLength="47.73" lengthAdjust="spacingAndGlyphs">19 billion t</text>
<text class="s" x="368.06" y="598.9" font-size="10.6" fill="#fff" fill-opacity="0.9" stroke="#f68b1f" stroke-width="0.13" textLength="24.16" lengthAdjust="spacingAndGlyphs">1.2%</text>
<text class="s" x="444.8" y="576.4" font-size="15.46" fill="#fff" fill-opacity="0.9" stroke="#f68b1f" stroke-width="0.19" textLength="44.88" lengthAdjust="spacingAndGlyphs">Turkey</text>
<text class="s" x="444.8" y="586.4" font-size="9.56" fill="#fff" fill-opacity="0.9" stroke="#f68b1f" stroke-width="0.11" textLength="45.69" lengthAdjust="spacingAndGlyphs">9.6 billion t</text>
<text class="s" x="444.8" y="596" font-size="9.5" fill="#fff" fill-opacity="0.9" stroke="#f68b1f" stroke-width="0.11" textLength="21.65" lengthAdjust="spacingAndGlyphs">0.6%</text>
<text class="s" x="492.22" y="567.1" font-size="6.24" fill="#fff" fill-opacity="0.75" stroke="#f68b1f" stroke-width="0.07" textLength="20.34" lengthAdjust="spacingAndGlyphs">Belarus</text>
<text class="s" x="492.22" y="571.6" font-size="4.3" fill="#fff" fill-opacity="0.6" stroke="#f68b1f" stroke-width="0.05" textLength="16.97" lengthAdjust="spacingAndGlyphs">2 billion t</text>
<text class="s" x="492.22" y="576.2" font-size="4.3" fill="#fff" fill-opacity="0.6" stroke="#f68b1f" stroke-width="0.05" textLength="9.8" lengthAdjust="spacingAndGlyphs">0.2%</text>
<text class="s" x="442.88" y="615.7" font-size="7.44" fill="#fff" fill-opacity="0.8" stroke="#f68b1f" stroke-width="0.09" textLength="36.98" lengthAdjust="spacingAndGlyphs">Switzerland</text>
<text class="s" x="442.88" y="620.4" font-size="4.8" fill="#fff" fill-opacity="0.65" stroke="#f68b1f" stroke-width="0.06" textLength="22.95" lengthAdjust="spacingAndGlyphs">2.9 billion t</text>
<text class="s" x="442.88" y="625" font-size="4.8" fill="#fff" fill-opacity="0.65" stroke="#f68b1f" stroke-width="0.06" textLength="10.94" lengthAdjust="spacingAndGlyphs">0.2%</text>
<text class="s" x="481.59" y="615.7" font-size="7.16" fill="#fff" fill-opacity="0.8" stroke="#f68b1f" stroke-width="0.09" textLength="19.92" lengthAdjust="spacingAndGlyphs">Serbia</text>
<text class="s" x="481.59" y="619.9" font-size="4.3" fill="#fff" fill-opacity="0.65" stroke="#f68b1f" stroke-width="0.05" textLength="20.56" lengthAdjust="spacingAndGlyphs">2.4 billion t</text>
<text class="s" x="481.59" y="623.9" font-size="4.3" fill="#fff" fill-opacity="0.65" stroke="#f68b1f" stroke-width="0.05" textLength="12.19" lengthAdjust="spacingAndGlyphs">0.15%</text>
<text class="s" x="442.61" y="633.7" font-size="7.7" fill="#fff" fill-opacity="0.8" stroke="#f68b1f" stroke-width="0.09" textLength="25.08" lengthAdjust="spacingAndGlyphs">Norway</text>
<text class="s" x="442.61" y="638.1" font-size="4.6" fill="#fff" fill-opacity="0.65" stroke="#f68b1f" stroke-width="0.06" textLength="21.99" lengthAdjust="spacingAndGlyphs">2.6 billion t</text>
<text class="s" x="442.61" y="642.2" font-size="4.6" fill="#fff" fill-opacity="0.65" stroke="#f68b1f" stroke-width="0.06" textLength="13.04" lengthAdjust="spacingAndGlyphs">0.16%</text>
<text class="s" x="516.34" y="571.7" font-size="12.84" fill="#fff" fill-opacity="0.9" stroke="#0b5ba6" stroke-width="0.15" textLength="66.58" lengthAdjust="spacingAndGlyphs">South Africa</text>
<text class="s" x="516.34" y="580.7" font-size="8.94" fill="#fff" fill-opacity="0.9" stroke="#0b5ba6" stroke-width="0.11" textLength="47.73" lengthAdjust="spacingAndGlyphs">19.8 billion t</text>
<text class="s" x="516.34" y="589.7" font-size="8.8" fill="#fff" fill-opacity="0.9" stroke="#0b5ba6" stroke-width="0.11" textLength="20.06" lengthAdjust="spacingAndGlyphs">1.3%</text>
<text class="s" x="517.17" y="633.6" font-size="9.47" fill="#fff" fill-opacity="0.88" stroke="#0b5ba6" stroke-width="0.11" textLength="23.29" lengthAdjust="spacingAndGlyphs">Egypt</text>
<text class="s" x="517.17" y="640.3" font-size="5.5" fill="#fff" fill-opacity="0.75" stroke="#0b5ba6" stroke-width="0.07" textLength="47.08" lengthAdjust="spacingAndGlyphs">5.6 billion t (0.35%)</text>
<text class="s" x="586.4" y="568.6" font-size="9.23" fill="#fff" fill-opacity="0.88" stroke="#0b5ba6" stroke-width="0.11" textLength="27.63" lengthAdjust="spacingAndGlyphs">Algeria</text>
<text class="s" x="586.4" y="574.6" font-size="5.27" fill="#fff" fill-opacity="0.75" stroke="#0b5ba6" stroke-width="0.06" textLength="45.15" lengthAdjust="spacingAndGlyphs">4.1 billion t (0.26%)</text>
<text class="s" x="585.69" y="586.9" font-size="9.17" fill="#fff" fill-opacity="0.88" stroke="#0b5ba6" stroke-width="0.11" textLength="27.93" lengthAdjust="spacingAndGlyphs">Nigeria</text>
<text class="s" x="585.69" y="592.9" font-size="5.29" fill="#fff" fill-opacity="0.75" stroke="#0b5ba6" stroke-width="0.06" textLength="45.26" lengthAdjust="spacingAndGlyphs">3.4 billion t (0.21%)</text>
<text class="s" x="585.86" y="601.4" font-size="7.07" fill="#fff" fill-opacity="0.8" stroke="#0b5ba6" stroke-width="0.08" textLength="16.25" lengthAdjust="spacingAndGlyphs">Libya</text>
<text class="s" x="585.86" y="606.1" font-size="4.8" fill="#fff" fill-opacity="0.65" stroke="#0b5ba6" stroke-width="0.06" textLength="18.95" lengthAdjust="spacingAndGlyphs">2 billion t</text>
<text class="s" x="585.86" y="610.7" font-size="4.8" fill="#fff" fill-opacity="0.65" stroke="#0b5ba6" stroke-width="0.06" textLength="13.61" lengthAdjust="spacingAndGlyphs">0.12%</text>
<text class="s" x="607.4" y="600.7" font-size="6.55" fill="#fff" fill-opacity="0.8" stroke="#0b5ba6" stroke-width="0.08" textLength="24.16" lengthAdjust="spacingAndGlyphs">Morocco</text>
<text class="s" x="607.4" y="604.5" font-size="3.7" fill="#fff" fill-opacity="0.65" stroke="#0b5ba6" stroke-width="0.04" textLength="17.69" lengthAdjust="spacingAndGlyphs">1.8 billion t</text>
<text class="s" x="607.4" y="608.1" font-size="3.7" fill="#fff" fill-opacity="0.65" stroke="#0b5ba6" stroke-width="0.04" textLength="8.43" lengthAdjust="spacingAndGlyphs">0.1%</text>
<text class="s" x="608.49" y="614.6" font-size="5.85" fill="#fff" fill-opacity="0.75" stroke="#0b5ba6" stroke-width="0.07" textLength="17.92" lengthAdjust="spacingAndGlyphs">Tunisia</text>
<text class="s" x="637.95" y="571.4" font-size="12.32" fill="#fff" fill-opacity="0.72" stroke="#62b646" stroke-width="0.15" textLength="29.63" lengthAdjust="spacingAndGlyphs">Brazil</text>
<text class="s" x="637.95" y="580.7" font-size="8.87" fill="#fff" fill-opacity="0.72" stroke="#62b646" stroke-width="0.11" textLength="47.33" lengthAdjust="spacingAndGlyphs">14.2 billion t</text>
<text class="s" x="637.95" y="589.7" font-size="8.8" fill="#fff" fill-opacity="0.72" stroke="#62b646" stroke-width="0.11" textLength="20.06" lengthAdjust="spacingAndGlyphs">0.9%</text>
<text class="s" x="638.6" y="623.6" font-size="12.39" fill="#fff" fill-opacity="0.72" stroke="#62b646" stroke-width="0.15" textLength="51.01" lengthAdjust="spacingAndGlyphs">Argentina</text>
<text class="s" x="638.6" y="632.9" font-size="8.8" fill="#fff" fill-opacity="0.72" stroke="#62b646" stroke-width="0.11" textLength="34.73" lengthAdjust="spacingAndGlyphs">8 billion t</text>
<text class="s" x="638.6" y="642.1" font-size="8.8" fill="#fff" fill-opacity="0.72" stroke="#62b646" stroke-width="0.11" textLength="20.06" lengthAdjust="spacingAndGlyphs">0.5%</text>
<text class="s" x="698.95" y="570" font-size="9.9" fill="#fff" fill-opacity="0.72" stroke="#62b646" stroke-width="0.12" textLength="44.46" lengthAdjust="spacingAndGlyphs">Venezuela</text>
<text class="s" x="698.95" y="578.1" font-size="8" fill="#fff" fill-opacity="0.72" stroke="#62b646" stroke-width="0.1" textLength="38.25" lengthAdjust="spacingAndGlyphs">7.6 billion t</text>
<text class="s" x="698.95" y="586.4" font-size="8" fill="#fff" fill-opacity="0.72" stroke="#62b646" stroke-width="0.1" textLength="18.23" lengthAdjust="spacingAndGlyphs">0.5%</text>
<text class="s" x="698.53" y="604.6" font-size="9.86" fill="#fff" fill-opacity="0.72" stroke="#62b646" stroke-width="0.12" textLength="40.07" lengthAdjust="spacingAndGlyphs">Colombia</text>
<text class="s" x="698.53" y="609.4" font-size="5" fill="#fff" fill-opacity="0.62" stroke="#62b646" stroke-width="0.06" textLength="40.02" lengthAdjust="spacingAndGlyphs">3.1 billion t (0.2%)</text>
<text class="s" x="698.61" y="617.9" font-size="8.14" fill="#fff" fill-opacity="0.72" stroke="#62b646" stroke-width="0.1" textLength="17.83" lengthAdjust="spacingAndGlyphs">Chile</text>
<text class="s" x="698.61" y="622.9" font-size="4.4" fill="#fff" fill-opacity="0.57" stroke="#62b646" stroke-width="0.05" textLength="37.67" lengthAdjust="spacingAndGlyphs">2.7 billion t (0.17%)</text>
<text class="s" x="749.8" y="571.4" font-size="11.66" fill="#fff" fill-opacity="0.9" stroke="#7a4b9e" stroke-width="0.14" textLength="43.61" lengthAdjust="spacingAndGlyphs">Australia</text>
<text class="s" x="749.8" y="579.7" font-size="8.07" fill="#fff" fill-opacity="0.85" stroke="#7a4b9e" stroke-width="0.1" textLength="43.06" lengthAdjust="spacingAndGlyphs">17.4 billion t</text>
<text class="s" x="749.8" y="587.9" font-size="7.9" fill="#fff" fill-opacity="0.85" stroke="#7a4b9e" stroke-width="0.09" textLength="18.01" lengthAdjust="spacingAndGlyphs">1.1%</text>
<text class="s" x="748.84" y="639.3" font-size="5.94" fill="#fff" fill-opacity="0.75" stroke="#7a4b9e" stroke-width="0.07" textLength="33.64" lengthAdjust="spacingAndGlyphs">New Zealand</text>
<text class="s" x="748.84" y="643.2" font-size="3.3" fill="#fff" fill-opacity="0.55" stroke="#7a4b9e" stroke-width="0.04" textLength="28" lengthAdjust="spacingAndGlyphs">1.8 billion t (0.11%)</text>
<text class="s" x="3.65" y="742" font-size="10.68" fill="#5a5a5a" stroke="#fff" stroke-width="0.19" textLength="913.33" lengthAdjust="spacingAndGlyphs">Figures for the 28 countries in the European Union have been grouped as the ‘EU-28’ since international targets and negotiations are typically set as a collaborative target between EU countries.</text>
<text class="s" x="4.45" y="753" font-size="10.74" fill="#5a5a5a" stroke="#fff" stroke-width="0.24" textLength="219.56" lengthAdjust="spacingAndGlyphs">Values may not sum to 100% due to rounding.</text>
<text class="s" x="3.66" y="768.4" font-size="10.48" fill="#adadad" stroke="#fff" stroke-width="0.23" textLength="678.13" lengthAdjust="spacingAndGlyphs">Data source: Calculated by Our World in Data based on data from the Global Carbon Project (GCP) and Carbon Dioxide Analysis Center (CDIAC).</text>
<text class="s" x="4.69" y="780.4" font-size="10.5" fill="#adadad" stroke="#fff" stroke-width="0.22" textLength="120.94" lengthAdjust="spacingAndGlyphs">This is a visualization from</text>
<text class="s" x="128.1" y="780.4" font-size="10.5" fill="#5c5c6a" stroke="#fff" stroke-width="0.22" textLength="98.61" lengthAdjust="spacingAndGlyphs">OurWorldinData.org</text>
<text class="s" x="225.87" y="780.4" font-size="10.5" fill="#adadad" stroke="#fff" stroke-width="0.22" textLength="297.88" lengthAdjust="spacingAndGlyphs">, where you find data and research on how the world is changing.</text>
<text class="s" x="693.5" y="780.3" font-size="10.35" fill="#adadad" stroke="#fff" stroke-width="0.22" textLength="245.5" lengthAdjust="spacingAndGlyphs">Licensed under <tspan fill="#60606e">CC-BY</tspan> by the author Hannah Ritchie.</text>
</svg>
</body>
</html>
